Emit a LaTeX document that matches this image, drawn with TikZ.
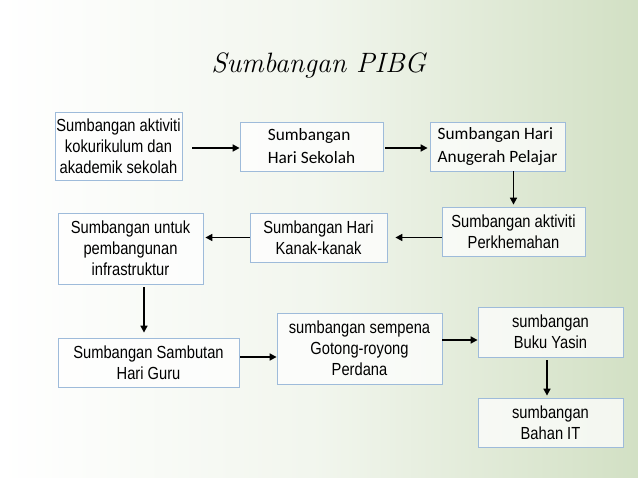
\documentclass[tikz,border=0pt]{standalone}
\usepackage{fontspec}
\usetikzlibrary{arrows.meta}

\newfontfamily\arialn[FakeStretch=0.84]{Liberation Sans}
\newfontfamily\calib{Carlito}

\definecolor{garisbiru}{RGB}{158,187,218}
\definecolor{hijaupudar}{RGB}{210,224,196}

\tikzset{
    kotak/.style={draw=garisbiru,line width=0.8pt,fill=white,fill opacity=0.75,
        text opacity=1,inner sep=0pt,align=center,
        font=\arialn\fontsize{17.5}{21}\selectfont},
    kotakc/.style={kotak,align=left,font=\calib\fontsize{17.3}{23}\selectfont},
    panah/.style={-{Triangle[length=7pt,width=7pt]},line width=1.6pt}
}

\begin{document}
\begin{tikzpicture}[x=1pt,y=-1pt]

        % ============================================
        % Background and title
        % ============================================

        \useasboundingbox (0,0) rectangle (638,478);
        \shade[left color=white,right color=hijaupudar,middle color=white!70!hijaupudar]
            (0,0) rectangle (638,478);

        \node[anchor=base,font=\rmfamily\itshape\fontsize{28}{30}\selectfont]
            (judul) at (318.5,73) {Sumbangan PIBG};

        % ============================================
        % Boxes
        % ============================================

        % Row 1
        \node[kotak,minimum width=127,minimum height=68] (kokurikulum) at (118.5,146)
            {Sumbangan aktiviti\\kokurikulum dan\\akademik sekolah};
        \node[kotakc,minimum width=143,minimum height=49] (sekolah) at (311.5,146.5)
            {Sumbangan\\Hari Sekolah};
        \node[kotakc,minimum width=135,minimum height=49] (anugerah) at (497.5,146.5)
            {Sumbangan Hari\\Anugerah Pelajar};

        % Row 2
        \node[kotak,minimum width=143,minimum height=49] (perkhemahan) at (513.5,231.5)
            {Sumbangan aktiviti\\Perkhemahan};
        \node[kotak,minimum width=137,minimum height=49] (kanak) at (318.5,237.5)
            {Sumbangan Hari\\Kanak-kanak};
        \node[kotak,minimum width=145,minimum height=71] (infra) at (130.5,248.5)
            {Sumbangan untuk\\pembangunan\\infrastruktur};

        % Row 3
        \node[kotak,minimum width=181,minimum height=49] (guru) at (148.5,362.5)
            {Sumbangan Sambutan\\Hari Guru};
        \node[kotak,minimum width=165,minimum height=71] (gotong) at (359.5,348.5)
            {sumbangan sempena\\Gotong-royong\\Perdana};
        \node[kotak,minimum width=145,minimum height=50] (yasin) at (550.5,332)
            {sumbangan\\Buku Yasin};
        \node[kotak,minimum width=145,minimum height=49] (bahan) at (550.5,422.5)
            {sumbangan\\Bahan IT};

        % ============================================
        % Arrows
        % ============================================

        \draw[panah,shorten <=10pt] ([yshift=-2pt]kokurikulum.east) -- ([yshift=-2pt]kokurikulum.east -| sekolah.west);
        \draw[panah,shorten <=2pt,shorten >=2pt] ([yshift=-1.5pt]sekolah.east) -- ([yshift=-1.5pt]sekolah.east -| anugerah.west);
        \draw[panah,shorten >=2pt] (anugerah.south -| perkhemahan.north) -- (perkhemahan.north);
        \draw[panah,shorten >=8pt] (perkhemahan.west |- kanak.east) -- (kanak.east);
        \draw[panah,shorten >=2pt] (kanak.west) -- (kanak.west -| infra.east);
        \draw[panah] ([xshift=13.5pt,yshift=-3pt]infra.south) -- ([xshift=-4.5pt,yshift=5pt]guru.north);
        \draw[panah,shorten <=1pt] ([yshift=5.5pt]guru.east) -- ([yshift=5.5pt]guru.east -| gotong.west);
        \draw[panah] ([yshift=-8pt]yasin.west -| gotong.east) -- ([yshift=-8pt]yasin.west);
        \draw[panah,shorten <=3pt,shorten >=2pt] ([xshift=-3.5pt]yasin.south) -- ([xshift=-3.5pt]bahan.north);

\end{tikzpicture}
\end{document}
